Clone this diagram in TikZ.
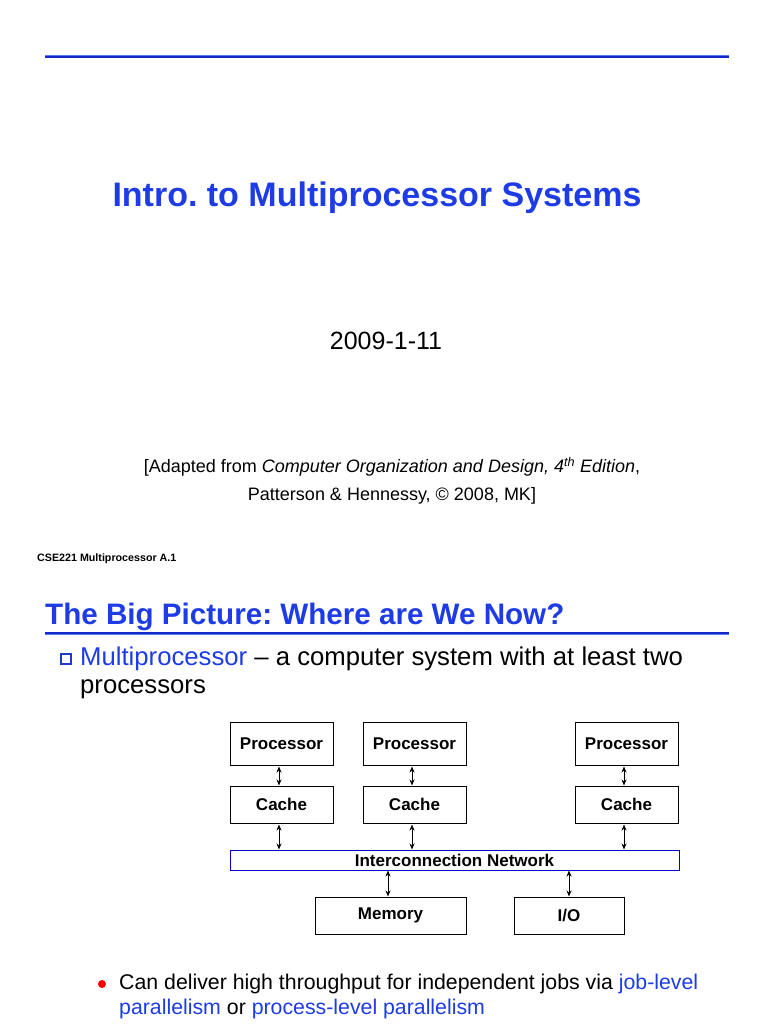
\documentclass[tikz,border=0pt]{standalone}
\usepackage{fontspec}
\setmainfont{Liberation Sans}
\usetikzlibrary{arrows.meta}
\begin{document}
\frenchspacing
\begin{tikzpicture}[x=1pt,y=-1pt,
  box/.style={draw,line width=1pt,minimum width=103pt,minimum height=43pt,font=\fontsize{17}{20}\selectfont\bfseries,inner sep=0pt},
  cbox/.style={box,minimum height=37pt},
  link/.style={{Stealth[length=6pt,width=5pt]}-{Stealth[length=6pt,width=5pt]},line width=1pt},
  bl/.style={color={rgb,255:red,30;green,60;blue,230}}]
\useasboundingbox (0,0) rectangle (768,1024);
\fill[white] (0,0) rectangle (768,1024);
\draw[line width=3pt,color={rgb,255:red,90;green,120;blue,240}] (45,57) -- (729,57);
\draw[line width=1.2pt,color={rgb,255:red,20;green,40;blue,200}] (45,57) -- (729,57);
\node[bl,font=\fontsize{34}{40}\selectfont\bfseries] (t1) at (377,198) {Intro. to Multiprocessor Systems};
\node[font=\fontsize{25}{30}\selectfont] (d) at (386,341) {2009-1-11};
\node[font=\fontsize{18}{22}\selectfont] (a1) at (392,467) {[Adapted from \textit{Computer Organization and Design, 4\textsuperscript{th} Edition},};
\node[font=\fontsize{18}{22}\selectfont] (a2) at (392,496) {Patterson \& Hennessy, © 2008, MK]};
\node[anchor=west,inner sep=0pt,font=\fontsize{10.7}{13}\selectfont\bfseries] (c) at (37,559) {CSE221 Multiprocessor A.1};
\node[bl,anchor=west,inner sep=0pt,font=\fontsize{29.6}{34}\selectfont\bfseries] (t2) at (45,617) {The Big Picture: Where are We Now?};
\draw[line width=3pt,color={rgb,255:red,90;green,120;blue,240}] (45,633) -- (729,633);
\draw[line width=1.2pt,color={rgb,255:red,20;green,40;blue,200}] (45,633) -- (729,633);
\node[draw,color={rgb,255:red,30;green,60;blue,200},line width=1.2pt,minimum size=10pt,inner sep=0pt] (sq) at (66,659) {};
\node[anchor=west,inner sep=0pt,font=\fontsize{25.7}{30}\selectfont] (m1) at (80,659) {\textcolor[RGB]{30,60,230}{Multiprocessor} -- a computer system with at least two};
\node[anchor=west,inner sep=0pt,font=\fontsize{25.7}{30}\selectfont] (m2) at (80,689) {processors};
\node[box] (p1) at (281.5,743.5) {Processor};
\node[box] (p2) at (414.5,743.5) {Processor};
\node[box] (p3) at (626.5,743.5) {Processor};
\node[cbox] (c1) at (281.5,804.5) {Cache};
\node[cbox] (c2) at (414.5,804.5) {Cache};
\node[cbox] (c3) at (626.5,804.5) {Cache};
\node[draw=blue!80!black,line width=1pt,minimum width=449pt,minimum height=20pt,inner sep=0pt,font=\fontsize{17}{20}\selectfont\bfseries] (net) at (454.5,860) {Interconnection Network};
\node[box,minimum width=151pt,minimum height=37pt] (mem) at (390.5,915.5) {Memory};
\node[box,minimum width=110pt,minimum height=37pt] (io) at (569,915.5) {I/O};
\foreach \p/\c/\x in {p1/c1/279,p2/c2/412,p3/c3/624}{
  \draw[link] (\x,0 |- \p.south) ++(0,1) -- (\x,0 |- \c.north);
  \draw[link] (\x,0 |- \c.south) ++(0,1) -- (\x,0 |- net.north);
}
\draw[link] (388,0 |- net.south) -- (388,0 |- mem.north);
\draw[link] (569,0 |- net.south) -- (569,0 |- io.north);
\fill[red] (102,984) circle (4pt);
\node[anchor=west,inner sep=0pt,font=\fontsize{21.3}{25}\selectfont] (b1) at (119,984) {Can deliver high throughput for independent jobs via \textcolor[RGB]{30,60,230}{job-level}};
\node[anchor=west,inner sep=0pt,font=\fontsize{21.3}{25}\selectfont] (b2) at (119,1009) {\textcolor[RGB]{30,60,230}{parallelism} or \textcolor[RGB]{30,60,230}{process-level parallelism}};
\end{tikzpicture}
\end{document}
